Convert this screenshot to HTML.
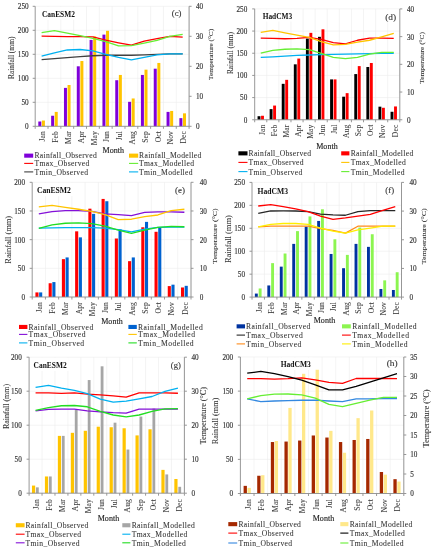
<!DOCTYPE html>
<html><head><meta charset="utf-8"><style>
html,body{margin:0;padding:0;background:#fff;width:433px;height:550px;overflow:hidden}
svg{display:block;will-change:transform}
text{font-family:"Liberation Serif",serif;fill:#3A3A3A}
.t{font-size:7.2px;fill:#383838;stroke:#383838;stroke-width:0.16px}
.m{font-size:7.2px;fill:#3a3a3a;stroke:#3a3a3a;stroke-width:0.05px}
.at{font-size:7.3px;fill:#333;stroke:#333;stroke-width:0.06px}
.at2{font-size:6.9px;fill:#333;stroke:#333;stroke-width:0.08px}
.mo{font-size:7.3px;fill:#222;stroke:#222;stroke-width:0.12px}
.ti{font-size:8.0px;font-weight:bold;fill:#111}
.tg{font-size:7.5px;fill:#333;stroke:#333;stroke-width:0.1px}
.lg{font-size:7.4px;fill:#333;stroke:#333;stroke-width:0.06px}
</style></head><body>
<svg width="433" height="550" viewBox="0 0 433 550">
<rect width="433" height="550" fill="#fff"/>
<path d="M48.02 6.3V126.3M60.85 6.3V126.3M73.67 6.3V126.3M86.5 6.3V126.3M99.32 6.3V126.3M112.15 6.3V126.3M124.97 6.3V126.3M137.8 6.3V126.3M150.62 6.3V126.3M163.45 6.3V126.3M176.27 6.3V126.3M189.1 6.3V126.3M35.2 102.3H189.1M35.2 78.3H189.1M35.2 54.3H189.1M35.2 30.3H189.1M35.2 6.3H189.1" stroke="#ECECEC" stroke-width="0.6" fill="none"/>
<rect x="40" y="6.9" width="36.9" height="12.8" fill="#fff"/>
<rect x="170.25" y="6.9" width="12.7" height="11.2" fill="#fff"/>
<rect x="38.31" y="121.5" width="3" height="4.8" fill="#7F00D9"/>
<rect x="41.91" y="120.54" width="3" height="5.76" fill="#FFC400"/>
<rect x="51.14" y="115.74" width="3" height="10.56" fill="#7F00D9"/>
<rect x="54.74" y="111.9" width="3" height="14.4" fill="#FFC400"/>
<rect x="63.96" y="87.9" width="3" height="38.4" fill="#7F00D9"/>
<rect x="67.56" y="85.02" width="3" height="41.28" fill="#FFC400"/>
<rect x="76.79" y="66.3" width="3" height="60" fill="#7F00D9"/>
<rect x="80.39" y="61.02" width="3" height="65.28" fill="#FFC400"/>
<rect x="89.61" y="39.9" width="3" height="86.4" fill="#7F00D9"/>
<rect x="93.21" y="36.54" width="3" height="89.76" fill="#FFC400"/>
<rect x="102.44" y="34.62" width="3" height="91.68" fill="#7F00D9"/>
<rect x="106.04" y="30.78" width="3" height="95.52" fill="#FFC400"/>
<rect x="115.26" y="80.22" width="3" height="46.08" fill="#7F00D9"/>
<rect x="118.86" y="74.94" width="3" height="51.36" fill="#FFC400"/>
<rect x="128.09" y="101.82" width="3" height="24.48" fill="#7F00D9"/>
<rect x="131.69" y="98.46" width="3" height="27.84" fill="#FFC400"/>
<rect x="140.91" y="74.94" width="3" height="51.36" fill="#7F00D9"/>
<rect x="144.51" y="69.66" width="3" height="56.64" fill="#FFC400"/>
<rect x="153.74" y="68.7" width="3" height="57.6" fill="#7F00D9"/>
<rect x="157.34" y="62.94" width="3" height="63.36" fill="#FFC400"/>
<rect x="166.56" y="111.9" width="3" height="14.4" fill="#7F00D9"/>
<rect x="170.16" y="110.94" width="3" height="15.36" fill="#FFC400"/>
<rect x="179.39" y="118.14" width="3" height="8.16" fill="#7F00D9"/>
<rect x="182.99" y="113.34" width="3" height="12.96" fill="#FFC400"/>
<polyline points="41.61,59.58 54.44,58.62 67.26,57.66 80.09,56.7 92.91,55.74 105.74,55.26 118.56,55.26 131.39,55.26 144.21,54.78 157.04,54.3 169.86,53.82 182.69,53.82" stroke="#404040" stroke-width="1.3" fill="none" stroke-linejoin="round"/>
<polyline points="41.61,56.22 54.44,52.86 67.26,49.98 80.09,49.5 92.91,50.94 105.74,54.3 118.56,57.42 131.39,59.92 144.21,57.42 157.04,54.78 169.86,53.82 182.69,53.82" stroke="#00B0F0" stroke-width="1.3" fill="none" stroke-linejoin="round"/>
<polyline points="41.61,36.2 54.44,36.3 67.26,36.54 80.09,36.54 92.91,36.78 105.74,40.09 118.56,42.78 131.39,45.18 144.21,41.2 157.04,38.7 169.86,36.3 182.69,37.12" stroke="#FF0000" stroke-width="1.3" fill="none" stroke-linejoin="round"/>
<polyline points="41.61,32.7 54.44,30.54 67.26,33.18 80.09,35.58 92.91,38.46 105.74,41.58 118.56,45.9 131.39,45.66 144.21,43.12 157.04,40.38 169.86,36.3 182.69,34.38" stroke="#66EE33" stroke-width="1.3" fill="none" stroke-linejoin="round"/>
<path d="M35.2 6.3V126.3M189.1 6.3V126.3M35.2 126.3H189.1M32.7 126.3H35.2M32.7 102.3H35.2M32.7 78.3H35.2M32.7 54.3H35.2M32.7 30.3H35.2M32.7 6.3H35.2M189.1 126.3H191.6M189.1 96.3H191.6M189.1 66.3H191.6M189.1 36.3H191.6M189.1 6.3H191.6M35.2 126.3V128.8M48.02 126.3V128.8M60.85 126.3V128.8M73.67 126.3V128.8M86.5 126.3V128.8M99.32 126.3V128.8M112.15 126.3V128.8M124.97 126.3V128.8M137.8 126.3V128.8M150.62 126.3V128.8M163.45 126.3V128.8M176.27 126.3V128.8M189.1 126.3V128.8" stroke="#8C8C8C" stroke-width="0.9" fill="none"/>
<text x="28.6" y="129.2" text-anchor="end" class="t">0</text>
<text x="28.6" y="105.2" text-anchor="end" class="t">50</text>
<text x="28.6" y="81.2" text-anchor="end" class="t">100</text>
<text x="28.6" y="57.2" text-anchor="end" class="t">150</text>
<text x="28.6" y="33.2" text-anchor="end" class="t">200</text>
<text x="28.6" y="9.2" text-anchor="end" class="t">250</text>
<text x="196" y="129.2" class="t">0</text>
<text x="196" y="99.2" class="t">10</text>
<text x="196" y="69.2" class="t">20</text>
<text x="196" y="39.2" class="t">30</text>
<text x="196" y="9.2" class="t">40</text>
<text transform="translate(45.21 131) rotate(-90) scale(1.05 1)" text-anchor="end" class="m" letter-spacing="0.12">Jan</text>
<text transform="translate(58.04 131) rotate(-90) scale(1.05 1)" text-anchor="end" class="m" letter-spacing="0.12">Feb</text>
<text transform="translate(70.86 131) rotate(-90) scale(1.05 1)" text-anchor="end" class="m" letter-spacing="0.12">Mar</text>
<text transform="translate(83.69 131) rotate(-90) scale(1.05 1)" text-anchor="end" class="m" letter-spacing="0.12">Apr</text>
<text transform="translate(96.51 131) rotate(-90) scale(1.05 1)" text-anchor="end" class="m" letter-spacing="0.12">May</text>
<text transform="translate(109.34 131) rotate(-90) scale(1.05 1)" text-anchor="end" class="m" letter-spacing="0.12">Jun</text>
<text transform="translate(122.16 131) rotate(-90) scale(1.05 1)" text-anchor="end" class="m" letter-spacing="0.12">Jul</text>
<text transform="translate(134.99 131) rotate(-90) scale(1.05 1)" text-anchor="end" class="m" letter-spacing="0.12">Aug</text>
<text transform="translate(147.81 131) rotate(-90) scale(1.05 1)" text-anchor="end" class="m" letter-spacing="0.12">Sep</text>
<text transform="translate(160.64 131) rotate(-90) scale(1.05 1)" text-anchor="end" class="m" letter-spacing="0.12">Oct</text>
<text transform="translate(173.46 131) rotate(-90) scale(1.05 1)" text-anchor="end" class="m" letter-spacing="0.12">Nov</text>
<text transform="translate(186.29 131) rotate(-90) scale(1.05 1)" text-anchor="end" class="m" letter-spacing="0.12">Dec</text>
<text transform="translate(13.8 57.8) rotate(-90)" text-anchor="middle" class="at" textLength="42.6" lengthAdjust="spacingAndGlyphs">Rainfall (mm)</text>
<text transform="translate(212.5 54.4) rotate(-90)" text-anchor="middle" class="at2" style="font-size:6.9px" textLength="51" lengthAdjust="spacingAndGlyphs">Temperature (&#176;C)</text>
<text transform="translate(113.3 152.7) scale(1.1 1)" text-anchor="middle" class="mo" textLength="19.7" lengthAdjust="spacing">Month</text>
<text x="42" y="16.7" class="ti" textLength="32.9" lengthAdjust="spacingAndGlyphs">CanESM2</text>
<text x="171.75" y="15.6" class="tg" textLength="9.7" lengthAdjust="spacingAndGlyphs">(c)</text>
<rect x="24.2" y="153.6" width="9" height="4.1" fill="#7F00D9"/>
<text transform="translate(34.5 158.2) scale(1.03 1)" class="lg" textLength="60.39" lengthAdjust="spacing">Rainfall_Observed</text>
<path d="M24.2 163.4H33.2" stroke="#FF0000" stroke-width="1.1"/>
<text transform="translate(34.5 166.3) scale(1.03 1)" class="lg" textLength="53.28" lengthAdjust="spacing">Tmax_Observed</text>
<path d="M24.2 171.9H33.2" stroke="#404040" stroke-width="1.1"/>
<text transform="translate(34.5 174.8) scale(1.03 1)" class="lg" textLength="51.96" lengthAdjust="spacing">Tmin_Observed</text>
<rect x="129" y="153.6" width="9.2" height="4.1" fill="#FFC400"/>
<text transform="translate(139.1 158.2) scale(1.03 1)" class="lg" textLength="60.39" lengthAdjust="spacing">Rainfall_Modelled</text>
<path d="M129 163.4H138.2" stroke="#66EE33" stroke-width="1.1"/>
<text transform="translate(139.1 166.3) scale(1.03 1)" class="lg" textLength="53.29" lengthAdjust="spacing">Tmax_Modelled</text>
<path d="M129 171.9H138.2" stroke="#00B0F0" stroke-width="1.1"/>
<text transform="translate(139.1 174.8) scale(1.03 1)" class="lg" textLength="51.96" lengthAdjust="spacing">Tmin_Modelled</text>
<path d="M266.79 8.9V119.75M278.88 8.9V119.75M290.98 8.9V119.75M303.07 8.9V119.75M315.16 8.9V119.75M327.25 8.9V119.75M339.34 8.9V119.75M351.43 8.9V119.75M363.52 8.9V119.75M375.62 8.9V119.75M387.71 8.9V119.75M399.8 8.9V119.75M254.7 97.58H399.8M254.7 75.41H399.8M254.7 53.24H399.8M254.7 31.07H399.8M254.7 8.9H399.8" stroke="#ECECEC" stroke-width="0.6" fill="none"/>
<rect x="260.7" y="9.5" width="33.5" height="12" fill="#fff"/>
<rect x="383.75" y="9.5" width="13.9" height="12.9" fill="#fff"/>
<rect x="257.55" y="116.2" width="2.9" height="3.55" fill="#000000"/>
<rect x="261.05" y="115.76" width="2.9" height="3.99" fill="#FF0000"/>
<rect x="269.64" y="109.11" width="2.9" height="10.64" fill="#000000"/>
<rect x="273.14" y="105.56" width="2.9" height="14.19" fill="#FF0000"/>
<rect x="281.73" y="83.83" width="2.9" height="35.92" fill="#000000"/>
<rect x="285.23" y="79.84" width="2.9" height="39.91" fill="#FF0000"/>
<rect x="293.82" y="64.33" width="2.9" height="55.42" fill="#000000"/>
<rect x="297.32" y="58.56" width="2.9" height="61.19" fill="#FF0000"/>
<rect x="305.91" y="38.61" width="2.9" height="81.14" fill="#000000"/>
<rect x="309.41" y="32.84" width="2.9" height="86.91" fill="#FF0000"/>
<rect x="318" y="36.83" width="2.9" height="82.92" fill="#000000"/>
<rect x="321.5" y="29.3" width="2.9" height="90.45" fill="#FF0000"/>
<rect x="330.1" y="79.4" width="2.9" height="40.35" fill="#000000"/>
<rect x="333.6" y="79.4" width="2.9" height="40.35" fill="#FF0000"/>
<rect x="342.19" y="96.69" width="2.9" height="23.06" fill="#000000"/>
<rect x="345.69" y="93.15" width="2.9" height="26.6" fill="#FF0000"/>
<rect x="354.28" y="74.08" width="2.9" height="45.67" fill="#000000"/>
<rect x="357.78" y="66.1" width="2.9" height="53.65" fill="#FF0000"/>
<rect x="366.37" y="66.99" width="2.9" height="52.76" fill="#000000"/>
<rect x="369.87" y="62.99" width="2.9" height="56.76" fill="#FF0000"/>
<rect x="378.46" y="106.67" width="2.9" height="13.08" fill="#000000"/>
<rect x="381.96" y="107.78" width="2.9" height="11.97" fill="#FF0000"/>
<rect x="390.55" y="111.77" width="2.9" height="7.98" fill="#000000"/>
<rect x="394.05" y="106.45" width="2.9" height="13.3" fill="#FF0000"/>
<polyline points="260.75,57.36 272.84,56.79 284.93,56.12 297.02,55.46 309.11,55.01 321.2,54.57 333.3,54.35 345.39,54.13 357.48,53.91 369.57,53.68 381.66,53.24 393.75,53.24" stroke="#00B0F0" stroke-width="1.3" fill="none" stroke-linejoin="round"/>
<polyline points="260.75,53.24 272.84,50.4 284.93,49.25 297.02,48.81 309.11,49.69 321.2,53.46 333.3,57.36 345.39,58.56 357.48,57.36 369.57,54.13 381.66,52.35 393.75,52.35" stroke="#66EE33" stroke-width="1.3" fill="none" stroke-linejoin="round"/>
<polyline points="260.75,38.16 272.84,38.39 284.93,38.74 297.02,38.43 309.11,37.41 321.2,39.32 333.3,42.6 345.39,43.93 357.48,40.25 369.57,38.03 381.66,38.03 393.75,38.3" stroke="#FF0000" stroke-width="1.3" fill="none" stroke-linejoin="round"/>
<polyline points="260.75,32.4 272.84,30.36 284.93,32.84 297.02,35.06 309.11,37.41 321.2,41.71 333.3,44.82 345.39,44.37 357.48,42.16 369.57,40.25 381.66,36.83 393.75,33.29" stroke="#FFC400" stroke-width="1.3" fill="none" stroke-linejoin="round"/>
<path d="M254.7 8.9V119.75M399.8 8.9V119.75M254.7 119.75H399.8M252.2 119.75H254.7M252.2 97.58H254.7M252.2 75.41H254.7M252.2 53.24H254.7M252.2 31.07H254.7M252.2 8.9H254.7M399.8 119.75H402.3M399.8 92.04H402.3M399.8 64.33H402.3M399.8 36.61H402.3M399.8 8.9H402.3M254.7 119.75V122.25M266.79 119.75V122.25M278.88 119.75V122.25M290.98 119.75V122.25M303.07 119.75V122.25M315.16 119.75V122.25M327.25 119.75V122.25M339.34 119.75V122.25M351.43 119.75V122.25M363.52 119.75V122.25M375.62 119.75V122.25M387.71 119.75V122.25M399.8 119.75V122.25" stroke="#8C8C8C" stroke-width="0.9" fill="none"/>
<text x="247.3" y="122.65" text-anchor="end" class="t">0</text>
<text x="247.3" y="100.48" text-anchor="end" class="t">50</text>
<text x="247.3" y="78.31" text-anchor="end" class="t">100</text>
<text x="247.3" y="56.14" text-anchor="end" class="t">150</text>
<text x="247.3" y="33.97" text-anchor="end" class="t">200</text>
<text x="247.3" y="11.8" text-anchor="end" class="t">250</text>
<text x="407" y="122.65" class="t">0</text>
<text x="407" y="94.94" class="t">10</text>
<text x="407" y="67.23" class="t">20</text>
<text x="407" y="39.51" class="t">30</text>
<text x="407" y="11.8" class="t">40</text>
<text transform="translate(264.55 124.6) rotate(-90) scale(1.05 1)" text-anchor="end" class="m" letter-spacing="0.12">Jan</text>
<text transform="translate(276.64 124.6) rotate(-90) scale(1.05 1)" text-anchor="end" class="m" letter-spacing="0.12">Feb</text>
<text transform="translate(288.73 124.6) rotate(-90) scale(1.05 1)" text-anchor="end" class="m" letter-spacing="0.12">Mar</text>
<text transform="translate(300.82 124.6) rotate(-90) scale(1.05 1)" text-anchor="end" class="m" letter-spacing="0.12">Apr</text>
<text transform="translate(312.91 124.6) rotate(-90) scale(1.05 1)" text-anchor="end" class="m" letter-spacing="0.12">May</text>
<text transform="translate(325 124.6) rotate(-90) scale(1.05 1)" text-anchor="end" class="m" letter-spacing="0.12">Jun</text>
<text transform="translate(337.1 124.6) rotate(-90) scale(1.05 1)" text-anchor="end" class="m" letter-spacing="0.12">Jul</text>
<text transform="translate(349.19 124.6) rotate(-90) scale(1.05 1)" text-anchor="end" class="m" letter-spacing="0.12">Aug</text>
<text transform="translate(361.28 124.6) rotate(-90) scale(1.05 1)" text-anchor="end" class="m" letter-spacing="0.12">Sep</text>
<text transform="translate(373.37 124.6) rotate(-90) scale(1.05 1)" text-anchor="end" class="m" letter-spacing="0.12">Oct</text>
<text transform="translate(385.46 124.6) rotate(-90) scale(1.05 1)" text-anchor="end" class="m" letter-spacing="0.12">Nov</text>
<text transform="translate(397.55 124.6) rotate(-90) scale(1.05 1)" text-anchor="end" class="m" letter-spacing="0.12">Dec</text>
<text transform="translate(232.5 53.1) rotate(-90)" text-anchor="middle" class="at" textLength="42" lengthAdjust="spacingAndGlyphs">Rainfall (mm)</text>
<text transform="translate(424.4 57.9) rotate(-90)" text-anchor="middle" class="at2" style="font-size:6.9px" textLength="51.6" lengthAdjust="spacingAndGlyphs">Temperature (&#176;C)</text>
<text transform="translate(327 148.8) scale(1.1 1)" text-anchor="middle" class="mo" textLength="19.7" lengthAdjust="spacing">Month</text>
<text x="262.7" y="18.5" class="ti" textLength="29.5" lengthAdjust="spacingAndGlyphs">HadCM3</text>
<text x="385.25" y="19.9" class="tg" textLength="10.9" lengthAdjust="spacingAndGlyphs">(d)</text>
<rect x="238.4" y="151.3" width="9.1" height="4.1" fill="#000000"/>
<text transform="translate(248.5 155.9) scale(1.03 1)" class="lg" textLength="60.68" lengthAdjust="spacing">Rainfall_Observed</text>
<path d="M238.4 162.4H247.5" stroke="#FF0000" stroke-width="1.1"/>
<text transform="translate(248.5 165.3) scale(1.03 1)" class="lg" textLength="53.54" lengthAdjust="spacing">Tmax_Observed</text>
<path d="M238.4 171.6H247.5" stroke="#00B0F0" stroke-width="1.1"/>
<text transform="translate(248.5 174.5) scale(1.03 1)" class="lg" textLength="52.21" lengthAdjust="spacing">Tmin_Observed</text>
<rect x="341.2" y="151.3" width="8.2" height="4.1" fill="#FF0000"/>
<text transform="translate(350.7 155.9) scale(1.03 1)" class="lg" textLength="60.68" lengthAdjust="spacing">Rainfall_Modelled</text>
<path d="M341.2 162.4H349.4" stroke="#FFC400" stroke-width="1.1"/>
<text transform="translate(350.7 165.3) scale(1.03 1)" class="lg" textLength="53.54" lengthAdjust="spacing">Tmax_Modelled</text>
<path d="M341.2 171.6H349.4" stroke="#66EE33" stroke-width="1.1"/>
<text transform="translate(350.7 174.5) scale(1.03 1)" class="lg" textLength="52.21" lengthAdjust="spacing">Tmin_Modelled</text>
<path d="M45.43 182.3V297M58.67 182.3V297M71.9 182.3V297M85.13 182.3V297M98.37 182.3V297M111.6 182.3V297M124.83 182.3V297M138.07 182.3V297M151.3 182.3V297M164.53 182.3V297M177.77 182.3V297M191 182.3V297M32.2 268.32H191M32.2 239.65H191M32.2 210.98H191M32.2 182.3H191" stroke="#ECECEC" stroke-width="0.6" fill="none"/>
<rect x="34.9" y="182.9" width="38" height="13.3" fill="#fff"/>
<rect x="173.5" y="182.9" width="13" height="12.6" fill="#fff"/>
<rect x="35.42" y="292.41" width="3.1" height="4.59" fill="#FF0000"/>
<rect x="39.12" y="292.41" width="3.1" height="4.59" fill="#0062D0"/>
<rect x="48.65" y="283.24" width="3.1" height="13.76" fill="#FF0000"/>
<rect x="52.35" y="282.09" width="3.1" height="14.91" fill="#0062D0"/>
<rect x="61.88" y="259.15" width="3.1" height="37.85" fill="#FF0000"/>
<rect x="65.58" y="257.43" width="3.1" height="39.57" fill="#0062D0"/>
<rect x="75.12" y="231.33" width="3.1" height="65.67" fill="#FF0000"/>
<rect x="78.82" y="237.36" width="3.1" height="59.64" fill="#0062D0"/>
<rect x="88.35" y="208.68" width="3.1" height="88.32" fill="#FF0000"/>
<rect x="92.05" y="213.84" width="3.1" height="83.16" fill="#0062D0"/>
<rect x="101.58" y="198.93" width="3.1" height="98.07" fill="#FF0000"/>
<rect x="105.28" y="201.23" width="3.1" height="95.77" fill="#0062D0"/>
<rect x="114.82" y="238.5" width="3.1" height="58.5" fill="#FF0000"/>
<rect x="118.52" y="229.33" width="3.1" height="67.67" fill="#0062D0"/>
<rect x="128.05" y="261.16" width="3.1" height="35.84" fill="#FF0000"/>
<rect x="131.75" y="257.43" width="3.1" height="39.57" fill="#0062D0"/>
<rect x="141.28" y="227.26" width="3.1" height="69.74" fill="#FF0000"/>
<rect x="144.98" y="221.87" width="3.1" height="75.13" fill="#0062D0"/>
<rect x="154.52" y="231.79" width="3.1" height="65.21" fill="#FF0000"/>
<rect x="158.22" y="227.26" width="3.1" height="69.74" fill="#0062D0"/>
<rect x="167.75" y="286.1" width="3.1" height="10.9" fill="#FF0000"/>
<rect x="171.45" y="284.67" width="3.1" height="12.33" fill="#0062D0"/>
<rect x="180.98" y="287.48" width="3.1" height="9.52" fill="#FF0000"/>
<rect x="184.68" y="285.82" width="3.1" height="11.18" fill="#0062D0"/>
<polyline points="38.82,228.18 52.05,227.89 65.28,227.72 78.52,227.61 91.75,227.61 104.98,228.18 118.22,229.61 131.45,231.97 144.68,229.21 157.92,227.43 171.15,227.03 184.38,227.03" stroke="#00B0F0" stroke-width="1.3" fill="none" stroke-linejoin="round"/>
<polyline points="38.82,228.29 52.05,224.85 65.28,223.25 78.52,222.9 91.75,223.71 104.98,226.17 118.22,230.07 131.45,233.34 144.68,230.07 157.92,227.43 171.15,226.46 184.38,226.75" stroke="#22DD22" stroke-width="1.3" fill="none" stroke-linejoin="round"/>
<polyline points="38.82,213.84 52.05,211.55 65.28,210.63 78.52,210.63 91.75,211.32 104.98,213.84 118.22,214.59 131.45,215.56 144.68,212.41 157.92,211.89 171.15,211.89 184.38,212.24" stroke="#8410D8" stroke-width="1.3" fill="none" stroke-linejoin="round"/>
<polyline points="38.82,206.96 52.05,205.47 65.28,207.3 78.52,209.25 91.75,211.32 104.98,214.59 118.22,219.69 131.45,219.23 144.68,216.71 157.92,214.99 171.15,210.63 184.38,209.25" stroke="#FFC400" stroke-width="1.3" fill="none" stroke-linejoin="round"/>
<path d="M32.2 182.3V297M191 182.3V297M32.2 297H191M29.7 297H32.2M29.7 268.32H32.2M29.7 239.65H32.2M29.7 210.98H32.2M29.7 182.3H32.2M191 297H193.5M191 268.32H193.5M191 239.65H193.5M191 210.98H193.5M191 182.3H193.5M32.2 297V299.5M45.43 297V299.5M58.67 297V299.5M71.9 297V299.5M85.13 297V299.5M98.37 297V299.5M111.6 297V299.5M124.83 297V299.5M138.07 297V299.5M151.3 297V299.5M164.53 297V299.5M177.77 297V299.5M191 297V299.5" stroke="#8C8C8C" stroke-width="0.9" fill="none"/>
<text x="25" y="299.9" text-anchor="end" class="t">0</text>
<text x="25" y="271.22" text-anchor="end" class="t">50</text>
<text x="25" y="242.55" text-anchor="end" class="t">100</text>
<text x="25" y="213.88" text-anchor="end" class="t">150</text>
<text x="25" y="185.2" text-anchor="end" class="t">200</text>
<text x="199.7" y="299.9" class="t">0</text>
<text x="199.7" y="271.22" class="t">10</text>
<text x="199.7" y="242.55" class="t">20</text>
<text x="199.7" y="213.88" class="t">30</text>
<text x="199.7" y="185.2" class="t">40</text>
<text transform="translate(42.02 302.1) rotate(-90) scale(1.05 1)" text-anchor="end" class="m" letter-spacing="0.12">Jan</text>
<text transform="translate(55.25 302.1) rotate(-90) scale(1.05 1)" text-anchor="end" class="m" letter-spacing="0.12">Feb</text>
<text transform="translate(68.48 302.1) rotate(-90) scale(1.05 1)" text-anchor="end" class="m" letter-spacing="0.12">Mar</text>
<text transform="translate(81.72 302.1) rotate(-90) scale(1.05 1)" text-anchor="end" class="m" letter-spacing="0.12">Apr</text>
<text transform="translate(94.95 302.1) rotate(-90) scale(1.05 1)" text-anchor="end" class="m" letter-spacing="0.12">May</text>
<text transform="translate(108.18 302.1) rotate(-90) scale(1.05 1)" text-anchor="end" class="m" letter-spacing="0.12">Jun</text>
<text transform="translate(121.42 302.1) rotate(-90) scale(1.05 1)" text-anchor="end" class="m" letter-spacing="0.12">Jul</text>
<text transform="translate(134.65 302.1) rotate(-90) scale(1.05 1)" text-anchor="end" class="m" letter-spacing="0.12">Aug</text>
<text transform="translate(147.88 302.1) rotate(-90) scale(1.05 1)" text-anchor="end" class="m" letter-spacing="0.12">Sep</text>
<text transform="translate(161.12 302.1) rotate(-90) scale(1.05 1)" text-anchor="end" class="m" letter-spacing="0.12">Oct</text>
<text transform="translate(174.35 302.1) rotate(-90) scale(1.05 1)" text-anchor="end" class="m" letter-spacing="0.12">Nov</text>
<text transform="translate(187.58 302.1) rotate(-90) scale(1.05 1)" text-anchor="end" class="m" letter-spacing="0.12">Dec</text>
<text transform="translate(10.6 239.8) rotate(-90)" text-anchor="middle" class="at" textLength="47.8" lengthAdjust="spacingAndGlyphs">Rainfall (mm)</text>
<text transform="translate(216.5 236) rotate(-90)" text-anchor="middle" class="at2" style="font-size:7.1px" textLength="55.4" lengthAdjust="spacingAndGlyphs">Temperature (&#176;C)</text>
<text transform="translate(112 323.8) scale(1.1 1)" text-anchor="middle" class="mo" textLength="19.7" lengthAdjust="spacing">Month</text>
<text x="36.9" y="193.2" class="ti" textLength="34" lengthAdjust="spacingAndGlyphs">CanESM2</text>
<text x="175" y="193" class="tg" textLength="10" lengthAdjust="spacingAndGlyphs">(e)</text>
<rect x="19" y="324.9" width="8.4" height="4.1" fill="#FF0000"/>
<text transform="translate(28.5 329.5) scale(1.03 1)" class="lg" textLength="62.82" lengthAdjust="spacing">Rainfall_Observed</text>
<path d="M19 334.4H27.4" stroke="#8410D8" stroke-width="1.1"/>
<text transform="translate(28.5 337.3) scale(1.03 1)" class="lg" textLength="55.42" lengthAdjust="spacing">Tmax_Observed</text>
<path d="M19 342.9H27.4" stroke="#00B0F0" stroke-width="1.1"/>
<text transform="translate(28.5 345.8) scale(1.03 1)" class="lg" textLength="54.04" lengthAdjust="spacing">Tmin_Observed</text>
<rect x="128.4" y="324.9" width="8.4" height="4.1" fill="#0062D0"/>
<text transform="translate(138 329.5) scale(1.03 1)" class="lg" textLength="62.82" lengthAdjust="spacing">Rainfall_Modelled</text>
<path d="M128.4 334.4H136.8" stroke="#FFC400" stroke-width="1.1"/>
<text transform="translate(138 337.3) scale(1.03 1)" class="lg" textLength="55.43" lengthAdjust="spacing">Tmax_Modelled</text>
<path d="M128.4 342.9H136.8" stroke="#22DD22" stroke-width="1.1"/>
<text transform="translate(138 345.8) scale(1.03 1)" class="lg" textLength="54.05" lengthAdjust="spacing">Tmin_Modelled</text>
<path d="M264.46 182.4V297.1M276.92 182.4V297.1M289.38 182.4V297.1M301.83 182.4V297.1M314.29 182.4V297.1M326.75 182.4V297.1M339.21 182.4V297.1M351.67 182.4V297.1M364.12 182.4V297.1M376.58 182.4V297.1M389.04 182.4V297.1M401.5 182.4V297.1M252 274.16H401.5M252 251.22H401.5M252 228.28H401.5M252 205.34H401.5M252 182.4H401.5" stroke="#ECECEC" stroke-width="0.6" fill="none"/>
<rect x="255.6" y="183" width="34.5" height="13.9" fill="#fff"/>
<rect x="383.85" y="183" width="11.7" height="12.5" fill="#fff"/>
<rect x="254.88" y="293.57" width="2.9" height="3.53" fill="#0033A0"/>
<rect x="258.68" y="288.47" width="2.9" height="8.63" fill="#8CF550"/>
<rect x="267.34" y="285.45" width="2.9" height="11.65" fill="#0033A0"/>
<rect x="271.14" y="263.15" width="2.9" height="33.95" fill="#8CF550"/>
<rect x="279.8" y="266.64" width="2.9" height="30.46" fill="#0033A0"/>
<rect x="283.6" y="253.51" width="2.9" height="43.59" fill="#8CF550"/>
<rect x="292.25" y="243.88" width="2.9" height="53.22" fill="#0033A0"/>
<rect x="296.05" y="231.12" width="2.9" height="65.98" fill="#8CF550"/>
<rect x="304.71" y="226.54" width="2.9" height="70.56" fill="#0033A0"/>
<rect x="308.51" y="216.4" width="2.9" height="80.7" fill="#8CF550"/>
<rect x="317.17" y="220.94" width="2.9" height="76.16" fill="#0033A0"/>
<rect x="320.97" y="209.29" width="2.9" height="87.81" fill="#8CF550"/>
<rect x="329.63" y="253.97" width="2.9" height="43.13" fill="#0033A0"/>
<rect x="333.43" y="239.29" width="2.9" height="57.81" fill="#8CF550"/>
<rect x="342.09" y="268.2" width="2.9" height="28.9" fill="#0033A0"/>
<rect x="345.89" y="254.89" width="2.9" height="42.21" fill="#8CF550"/>
<rect x="354.55" y="243.88" width="2.9" height="53.22" fill="#0033A0"/>
<rect x="358.35" y="227.59" width="2.9" height="69.51" fill="#8CF550"/>
<rect x="367" y="246.86" width="2.9" height="50.24" fill="#0033A0"/>
<rect x="370.8" y="234.24" width="2.9" height="62.86" fill="#8CF550"/>
<rect x="379.46" y="288.98" width="2.9" height="8.12" fill="#0033A0"/>
<rect x="383.26" y="280.35" width="2.9" height="16.75" fill="#8CF550"/>
<rect x="391.92" y="289.99" width="2.9" height="7.11" fill="#0033A0"/>
<rect x="395.72" y="272.23" width="2.9" height="24.87" fill="#8CF550"/>
<polyline points="258.23,226.9 270.69,226.22 283.15,226.22 295.6,226.22 308.06,226.22 320.52,228.56 332.98,230.48 345.44,233.1 357.9,226.22 370.35,226.22 382.81,226.22 395.27,226.22" stroke="#FF8C1A" stroke-width="1.3" fill="none" stroke-linejoin="round"/>
<polyline points="258.23,226.81 270.69,224.43 283.15,223.51 295.6,223.51 308.06,224.43 320.52,228.14 332.98,231.17 345.44,233.1 357.9,229.89 370.35,228.1 382.81,226.22 395.27,226.22" stroke="#FFEE00" stroke-width="1.3" fill="none" stroke-linejoin="round"/>
<polyline points="258.23,213.37 270.69,210.98 283.15,210.85 295.6,210.98 308.06,211.58 320.52,214.06 332.98,214.88 345.44,215.25 357.9,211.58 370.35,210.57 382.81,210.57 395.27,210.57" stroke="#262626" stroke-width="1.3" fill="none" stroke-linejoin="round"/>
<polyline points="258.23,205.98 270.69,204.7 283.15,206.58 295.6,208.78 308.06,211.58 320.52,216.12 332.98,219.43 345.44,217.96 357.9,216.17 370.35,214.29 382.81,210.3 395.27,206.58" stroke="#FF0000" stroke-width="1.3" fill="none" stroke-linejoin="round"/>
<path d="M252 182.4V297.1M401.5 182.4V297.1M252 297.1H401.5M249.5 297.1H252M249.5 274.16H252M249.5 251.22H252M249.5 228.28H252M249.5 205.34H252M249.5 182.4H252M401.5 297.1H404M401.5 268.43H404M401.5 239.75H404M401.5 211.08H404M401.5 182.4H404M252 297.1V299.6M264.46 297.1V299.6M276.92 297.1V299.6M289.38 297.1V299.6M301.83 297.1V299.6M314.29 297.1V299.6M326.75 297.1V299.6M339.21 297.1V299.6M351.67 297.1V299.6M364.12 297.1V299.6M376.58 297.1V299.6M389.04 297.1V299.6M401.5 297.1V299.6" stroke="#8C8C8C" stroke-width="0.9" fill="none"/>
<text x="245" y="300" text-anchor="end" class="t">0</text>
<text x="245" y="277.06" text-anchor="end" class="t">50</text>
<text x="245" y="254.12" text-anchor="end" class="t">100</text>
<text x="245" y="231.18" text-anchor="end" class="t">150</text>
<text x="245" y="208.24" text-anchor="end" class="t">200</text>
<text x="245" y="185.3" text-anchor="end" class="t">250</text>
<text x="409.5" y="300" class="t">0</text>
<text x="409.5" y="271.32" class="t">10</text>
<text x="409.5" y="242.65" class="t">20</text>
<text x="409.5" y="213.98" class="t">30</text>
<text x="409.5" y="185.3" class="t">40</text>
<text transform="translate(261.73 302) rotate(-90) scale(1.05 1)" text-anchor="end" class="m" letter-spacing="0.12">Jan</text>
<text transform="translate(274.19 302) rotate(-90) scale(1.05 1)" text-anchor="end" class="m" letter-spacing="0.12">Feb</text>
<text transform="translate(286.65 302) rotate(-90) scale(1.05 1)" text-anchor="end" class="m" letter-spacing="0.12">Mar</text>
<text transform="translate(299.1 302) rotate(-90) scale(1.05 1)" text-anchor="end" class="m" letter-spacing="0.12">Apr</text>
<text transform="translate(311.56 302) rotate(-90) scale(1.05 1)" text-anchor="end" class="m" letter-spacing="0.12">May</text>
<text transform="translate(324.02 302) rotate(-90) scale(1.05 1)" text-anchor="end" class="m" letter-spacing="0.12">Jun</text>
<text transform="translate(336.48 302) rotate(-90) scale(1.05 1)" text-anchor="end" class="m" letter-spacing="0.12">Jul</text>
<text transform="translate(348.94 302) rotate(-90) scale(1.05 1)" text-anchor="end" class="m" letter-spacing="0.12">Aug</text>
<text transform="translate(361.4 302) rotate(-90) scale(1.05 1)" text-anchor="end" class="m" letter-spacing="0.12">Sep</text>
<text transform="translate(373.85 302) rotate(-90) scale(1.05 1)" text-anchor="end" class="m" letter-spacing="0.12">Oct</text>
<text transform="translate(386.31 302) rotate(-90) scale(1.05 1)" text-anchor="end" class="m" letter-spacing="0.12">Nov</text>
<text transform="translate(398.77 302) rotate(-90) scale(1.05 1)" text-anchor="end" class="m" letter-spacing="0.12">Dec</text>
<text transform="translate(230.5 239.2) rotate(-90)" text-anchor="middle" class="at" textLength="47.8" lengthAdjust="spacingAndGlyphs">Rainfall (mm)</text>
<text transform="translate(426.3 236.3) rotate(-90)" text-anchor="middle" class="at2" style="font-size:7.1px" textLength="56" lengthAdjust="spacingAndGlyphs">Temperature (&#176;C)</text>
<text transform="translate(324.5 322.7) scale(1.1 1)" text-anchor="middle" class="mo" textLength="19.7" lengthAdjust="spacing">Month</text>
<text x="257.6" y="193.9" class="ti" textLength="30.5" lengthAdjust="spacingAndGlyphs">HadCM3</text>
<text x="385.35" y="193" class="tg" textLength="8.7" lengthAdjust="spacingAndGlyphs">(f)</text>
<rect x="236.6" y="324.3" width="8.4" height="4.1" fill="#0033A0"/>
<text transform="translate(246 328.9) scale(1.03 1)" class="lg" textLength="62.43" lengthAdjust="spacing">Rainfall_Observed</text>
<path d="M236.6 335.1H245" stroke="#262626" stroke-width="1.1"/>
<text transform="translate(246 338) scale(1.03 1)" class="lg" textLength="55.08" lengthAdjust="spacing">Tmax_Observed</text>
<path d="M236.6 343.9H245" stroke="#FF8C1A" stroke-width="1.1"/>
<text transform="translate(246 346.8) scale(1.03 1)" class="lg" textLength="53.71" lengthAdjust="spacing">Tmin_Observed</text>
<rect x="342" y="324.3" width="8.8" height="4.1" fill="#8CF550"/>
<text transform="translate(352.2 328.9) scale(1.03 1)" class="lg" textLength="62.43" lengthAdjust="spacing">Rainfall_Modelled</text>
<path d="M342 335.1H350.8" stroke="#FF0000" stroke-width="1.1"/>
<text transform="translate(352.2 338) scale(1.03 1)" class="lg" textLength="55.09" lengthAdjust="spacing">Tmax_Modelled</text>
<path d="M342 343.9H350.8" stroke="#FFEE00" stroke-width="1.1"/>
<text transform="translate(352.2 346.8) scale(1.03 1)" class="lg" textLength="53.71" lengthAdjust="spacing">Tmin_Modelled</text>
<path d="M42.04 357.2V493.2M54.98 357.2V493.2M67.93 357.2V493.2M80.87 357.2V493.2M93.81 357.2V493.2M106.75 357.2V493.2M119.69 357.2V493.2M132.63 357.2V493.2M145.58 357.2V493.2M158.52 357.2V493.2M171.46 357.2V493.2M184.4 357.2V493.2M29.1 459.2H184.4M29.1 425.2H184.4M29.1 391.2H184.4M29.1 357.2H184.4" stroke="#ECECEC" stroke-width="0.6" fill="none"/>
<rect x="31.6" y="357.8" width="37" height="13.2" fill="#fff"/>
<rect x="169.3" y="357.8" width="13" height="12.6" fill="#fff"/>
<rect x="31.97" y="485.58" width="3.2" height="7.62" fill="#FFC400"/>
<rect x="35.97" y="487.35" width="2.8" height="5.85" fill="#A6A6A6"/>
<rect x="44.91" y="476.47" width="3.2" height="16.73" fill="#FFC400"/>
<rect x="48.91" y="476.47" width="2.8" height="16.73" fill="#A6A6A6"/>
<rect x="57.85" y="435.88" width="3.2" height="57.32" fill="#FFC400"/>
<rect x="61.85" y="435.88" width="2.8" height="57.32" fill="#A6A6A6"/>
<rect x="70.8" y="432.82" width="3.2" height="60.38" fill="#FFC400"/>
<rect x="74.8" y="409.56" width="2.8" height="83.64" fill="#A6A6A6"/>
<rect x="83.74" y="430.78" width="3.2" height="62.42" fill="#FFC400"/>
<rect x="87.74" y="380.05" width="2.8" height="113.15" fill="#A6A6A6"/>
<rect x="96.68" y="426.7" width="3.2" height="66.5" fill="#FFC400"/>
<rect x="100.68" y="366.31" width="2.8" height="126.89" fill="#A6A6A6"/>
<rect x="109.62" y="427.24" width="3.2" height="65.96" fill="#FFC400"/>
<rect x="113.62" y="422.68" width="2.8" height="70.52" fill="#A6A6A6"/>
<rect x="122.56" y="428.26" width="3.2" height="64.94" fill="#FFC400"/>
<rect x="126.56" y="449.54" width="2.8" height="43.66" fill="#A6A6A6"/>
<rect x="135.5" y="435.4" width="3.2" height="57.8" fill="#FFC400"/>
<rect x="139.5" y="416.56" width="2.8" height="76.64" fill="#A6A6A6"/>
<rect x="148.45" y="429.28" width="3.2" height="63.92" fill="#FFC400"/>
<rect x="152.45" y="408.47" width="2.8" height="84.73" fill="#A6A6A6"/>
<rect x="161.39" y="469.88" width="3.2" height="23.32" fill="#FFC400"/>
<rect x="165.39" y="474.43" width="2.8" height="18.77" fill="#A6A6A6"/>
<rect x="174.33" y="478.99" width="3.2" height="14.21" fill="#FFC400"/>
<rect x="178.33" y="486.81" width="2.8" height="6.39" fill="#A6A6A6"/>
<polyline points="35.57,410.78 48.51,409.42 61.45,409.15 74.4,409.15 87.34,410.78 100.28,411.87 113.22,412.69 126.16,413.16 139.1,409.15 152.05,409.15 164.99,409.15 177.93,409.15" stroke="#8410D8" stroke-width="1.3" fill="none" stroke-linejoin="round"/>
<polyline points="35.57,410.44 48.51,407.66 61.45,405.75 74.4,405.48 87.34,406.77 100.28,411.33 113.22,415 126.16,416.9 139.1,415 152.05,411.33 164.99,408.88 177.93,408.68" stroke="#22DD22" stroke-width="1.3" fill="none" stroke-linejoin="round"/>
<polyline points="35.57,392.83 48.51,392.83 61.45,393.38 74.4,392.83 87.34,394.12 100.28,394.87 113.22,395.96 126.16,397.12 139.1,392.83 152.05,392.83 164.99,392.83 177.93,393.24" stroke="#FF0000" stroke-width="1.3" fill="none" stroke-linejoin="round"/>
<polyline points="35.57,387.32 48.51,385.42 61.45,388.21 74.4,390.38 87.34,393.72 100.28,399.16 113.22,402.08 126.16,401.13 139.1,398.95 152.05,396.5 164.99,391.47 177.93,388.21" stroke="#00B0F0" stroke-width="1.3" fill="none" stroke-linejoin="round"/>
<path d="M29.1 357.2V493.2M184.4 357.2V493.2M29.1 493.2H184.4M26.6 493.2H29.1M26.6 459.2H29.1M26.6 425.2H29.1M26.6 391.2H29.1M26.6 357.2H29.1M184.4 493.2H186.9M184.4 459.2H186.9M184.4 425.2H186.9M184.4 391.2H186.9M184.4 357.2H186.9M29.1 493.2V495.7M42.04 493.2V495.7M54.98 493.2V495.7M67.93 493.2V495.7M80.87 493.2V495.7M93.81 493.2V495.7M106.75 493.2V495.7M119.69 493.2V495.7M132.63 493.2V495.7M145.58 493.2V495.7M158.52 493.2V495.7M171.46 493.2V495.7M184.4 493.2V495.7" stroke="#8C8C8C" stroke-width="0.9" fill="none"/>
<text x="21.8" y="496.1" text-anchor="end" class="t">0</text>
<text x="21.8" y="462.1" text-anchor="end" class="t">50</text>
<text x="21.8" y="428.1" text-anchor="end" class="t">100</text>
<text x="21.8" y="394.1" text-anchor="end" class="t">150</text>
<text x="21.8" y="360.1" text-anchor="end" class="t">200</text>
<text x="191.5" y="496.1" class="t">0</text>
<text x="191.5" y="462.1" class="t">10</text>
<text x="191.5" y="428.1" class="t">20</text>
<text x="191.5" y="394.1" class="t">30</text>
<text x="191.5" y="360.1" class="t">40</text>
<text transform="translate(39.17 499) rotate(-90) scale(1.05 1)" text-anchor="end" class="m" letter-spacing="0.12">Jan</text>
<text transform="translate(52.11 499) rotate(-90) scale(1.05 1)" text-anchor="end" class="m" letter-spacing="0.12">Feb</text>
<text transform="translate(65.05 499) rotate(-90) scale(1.05 1)" text-anchor="end" class="m" letter-spacing="0.12">Mar</text>
<text transform="translate(78 499) rotate(-90) scale(1.05 1)" text-anchor="end" class="m" letter-spacing="0.12">Apr</text>
<text transform="translate(90.94 499) rotate(-90) scale(1.05 1)" text-anchor="end" class="m" letter-spacing="0.12">May</text>
<text transform="translate(103.88 499) rotate(-90) scale(1.05 1)" text-anchor="end" class="m" letter-spacing="0.12">Jun</text>
<text transform="translate(116.82 499) rotate(-90) scale(1.05 1)" text-anchor="end" class="m" letter-spacing="0.12">Jul</text>
<text transform="translate(129.76 499) rotate(-90) scale(1.05 1)" text-anchor="end" class="m" letter-spacing="0.12">Aug</text>
<text transform="translate(142.7 499) rotate(-90) scale(1.05 1)" text-anchor="end" class="m" letter-spacing="0.12">Sep</text>
<text transform="translate(155.65 499) rotate(-90) scale(1.05 1)" text-anchor="end" class="m" letter-spacing="0.12">Oct</text>
<text transform="translate(168.59 499) rotate(-90) scale(1.05 1)" text-anchor="end" class="m" letter-spacing="0.12">Nov</text>
<text transform="translate(181.53 499) rotate(-90) scale(1.05 1)" text-anchor="end" class="m" letter-spacing="0.12">Dec</text>
<text transform="translate(8.7 406.5) rotate(-90)" text-anchor="middle" class="at" textLength="45.2" lengthAdjust="spacingAndGlyphs">Rainfall (mm)</text>
<text transform="translate(205.8 415.7) rotate(-90)" text-anchor="middle" class="at2" style="font-size:7.5px" textLength="57.3" lengthAdjust="spacingAndGlyphs">Temperature (&#176;C)</text>
<text transform="translate(108.5 520.5) scale(1.1 1)" text-anchor="middle" class="mo" textLength="19.7" lengthAdjust="spacing">Month</text>
<text x="33.6" y="368" class="ti" textLength="33" lengthAdjust="spacingAndGlyphs">CanESM2</text>
<text x="170.8" y="367.9" class="tg" textLength="10" lengthAdjust="spacingAndGlyphs">(g)</text>
<rect x="15.8" y="523.2" width="8.8" height="4.1" fill="#FFC400"/>
<text transform="translate(25.4 527.8) scale(1.03 1)" class="lg" textLength="61.17" lengthAdjust="spacing">Rainfall_Observed</text>
<path d="M15.8 534.2H24.6" stroke="#FF0000" stroke-width="1.1"/>
<text transform="translate(25.4 537.1) scale(1.03 1)" class="lg" textLength="53.97" lengthAdjust="spacing">Tmax_Observed</text>
<path d="M15.8 542.8H24.6" stroke="#8410D8" stroke-width="1.1"/>
<text transform="translate(25.4 545.7) scale(1.03 1)" class="lg" textLength="52.62" lengthAdjust="spacing">Tmin_Observed</text>
<rect x="122.3" y="523.2" width="8.1" height="4.1" fill="#A6A6A6"/>
<text transform="translate(131.7 527.8) scale(1.03 1)" class="lg" textLength="61.17" lengthAdjust="spacing">Rainfall_Modelled</text>
<path d="M122.3 534.2H130.4" stroke="#00B0F0" stroke-width="1.1"/>
<text transform="translate(131.7 537.1) scale(1.03 1)" class="lg" textLength="53.97" lengthAdjust="spacing">Tmax_Modelled</text>
<path d="M122.3 542.8H130.4" stroke="#22DD22" stroke-width="1.1"/>
<text transform="translate(131.7 545.7) scale(1.03 1)" class="lg" textLength="52.63" lengthAdjust="spacing">Tmin_Modelled</text>
<path d="M254.02 357V493.5M267.63 357V493.5M281.25 357V493.5M294.87 357V493.5M308.48 357V493.5M322.1 357V493.5M335.72 357V493.5M349.33 357V493.5M362.95 357V493.5M376.57 357V493.5M390.18 357V493.5M403.8 357V493.5M240.4 459.38H403.8M240.4 425.25H403.8M240.4 391.12H403.8M240.4 357H403.8" stroke="#ECECEC" stroke-width="0.6" fill="none"/>
<rect x="278.7" y="357.6" width="34.1" height="12.4" fill="#fff"/>
<rect x="385.25" y="357.6" width="13.9" height="11.3" fill="#fff"/>
<rect x="243.61" y="485.86" width="3.3" height="7.64" fill="#A52800"/>
<rect x="247.51" y="487.9" width="3.3" height="5.6" fill="#FFE88A"/>
<rect x="257.22" y="475.75" width="3.3" height="17.75" fill="#A52800"/>
<rect x="261.12" y="475.21" width="3.3" height="18.29" fill="#FFE88A"/>
<rect x="270.84" y="442.04" width="3.3" height="51.46" fill="#A52800"/>
<rect x="274.74" y="441.02" width="3.3" height="52.48" fill="#FFE88A"/>
<rect x="284.46" y="441.56" width="3.3" height="51.94" fill="#A52800"/>
<rect x="288.36" y="407.91" width="3.3" height="85.59" fill="#FFE88A"/>
<rect x="298.07" y="440.54" width="3.3" height="52.96" fill="#A52800"/>
<rect x="301.98" y="373.79" width="3.3" height="119.71" fill="#FFE88A"/>
<rect x="311.69" y="435.49" width="3.3" height="58.01" fill="#A52800"/>
<rect x="315.59" y="369.76" width="3.3" height="123.74" fill="#FFE88A"/>
<rect x="325.31" y="437.54" width="3.3" height="55.96" fill="#A52800"/>
<rect x="329.21" y="430.85" width="3.3" height="62.65" fill="#FFE88A"/>
<rect x="338.92" y="442.04" width="3.3" height="51.46" fill="#A52800"/>
<rect x="342.82" y="452.75" width="3.3" height="40.75" fill="#FFE88A"/>
<rect x="352.54" y="439.99" width="3.3" height="53.51" fill="#A52800"/>
<rect x="356.44" y="418.15" width="3.3" height="75.35" fill="#FFE88A"/>
<rect x="366.16" y="438.97" width="3.3" height="54.53" fill="#A52800"/>
<rect x="370.06" y="410.51" width="3.3" height="82.99" fill="#FFE88A"/>
<rect x="379.77" y="472" width="3.3" height="21.5" fill="#A52800"/>
<rect x="383.68" y="474.66" width="3.3" height="18.84" fill="#FFE88A"/>
<rect x="393.39" y="479.17" width="3.3" height="14.33" fill="#A52800"/>
<rect x="397.29" y="481.56" width="3.3" height="11.94" fill="#FFE88A"/>
<polyline points="247.21,398.91 260.82,401.64 274.44,401.02 288.06,400.54 301.68,400.27 315.29,400.13 328.91,401.02 342.52,401.7 356.14,398.97 369.76,398.97 383.38,398.5 396.99,398.5" stroke="#3388E0" stroke-width="1.3" fill="none" stroke-linejoin="round"/>
<polyline points="247.21,398.91 260.82,395.63 274.44,394.13 288.06,393.99 301.68,394.95 315.29,398.09 328.91,404.43 342.52,406.55 356.14,403.41 369.76,400.2 383.38,397.47 396.99,397.47" stroke="#66EE33" stroke-width="1.3" fill="none" stroke-linejoin="round"/>
<polyline points="247.21,378.57 260.82,378.57 274.44,379.11 288.06,378.7 301.68,377.95 315.29,379.86 328.91,382.39 342.52,383.28 356.14,378.5 369.76,378.5 383.38,378.5 396.99,378.64" stroke="#FF0000" stroke-width="1.3" fill="none" stroke-linejoin="round"/>
<polyline points="247.21,373.11 260.82,371.47 274.44,373.52 288.06,376.66 301.68,380.2 315.29,384.98 328.91,389.9 342.52,389.9 356.14,386.35 369.76,382.05 383.38,377.95 396.99,373.72" stroke="#000000" stroke-width="1.3" fill="none" stroke-linejoin="round"/>
<path d="M240.4 357V493.5M403.8 357V493.5M240.4 493.5H403.8M237.9 493.5H240.4M237.9 459.38H240.4M237.9 425.25H240.4M237.9 391.12H240.4M237.9 357H240.4M403.8 493.5H406.3M403.8 474H406.3M403.8 454.5H406.3M403.8 435H406.3M403.8 415.5H406.3M403.8 396H406.3M403.8 376.5H406.3M403.8 357H406.3M240.4 493.5V496M254.02 493.5V496M267.63 493.5V496M281.25 493.5V496M294.87 493.5V496M308.48 493.5V496M322.1 493.5V496M335.72 493.5V496M349.33 493.5V496M362.95 493.5V496M376.57 493.5V496M390.18 493.5V496M403.8 493.5V496" stroke="#8C8C8C" stroke-width="0.9" fill="none"/>
<text x="233.2" y="496.4" text-anchor="end" class="t">0</text>
<text x="233.2" y="462.27" text-anchor="end" class="t">50</text>
<text x="233.2" y="428.15" text-anchor="end" class="t">100</text>
<text x="233.2" y="394.02" text-anchor="end" class="t">150</text>
<text x="233.2" y="359.9" text-anchor="end" class="t">200</text>
<text x="410.2" y="496.4" class="t">0</text>
<text x="410.2" y="476.9" class="t">5</text>
<text x="410.2" y="457.4" class="t">10</text>
<text x="410.2" y="437.9" class="t">15</text>
<text x="410.2" y="418.4" class="t">20</text>
<text x="410.2" y="398.9" class="t">25</text>
<text x="410.2" y="379.4" class="t">30</text>
<text x="410.2" y="359.9" class="t">35</text>
<text transform="translate(250.61 499) rotate(-90) scale(1.05 1)" text-anchor="end" class="m" letter-spacing="0.12">Jan</text>
<text transform="translate(264.22 499) rotate(-90) scale(1.05 1)" text-anchor="end" class="m" letter-spacing="0.12">Feb</text>
<text transform="translate(277.84 499) rotate(-90) scale(1.05 1)" text-anchor="end" class="m" letter-spacing="0.12">Mar</text>
<text transform="translate(291.46 499) rotate(-90) scale(1.05 1)" text-anchor="end" class="m" letter-spacing="0.12">Apr</text>
<text transform="translate(305.07 499) rotate(-90) scale(1.05 1)" text-anchor="end" class="m" letter-spacing="0.12">May</text>
<text transform="translate(318.69 499) rotate(-90) scale(1.05 1)" text-anchor="end" class="m" letter-spacing="0.12">Jun</text>
<text transform="translate(332.31 499) rotate(-90) scale(1.05 1)" text-anchor="end" class="m" letter-spacing="0.12">Jul</text>
<text transform="translate(345.92 499) rotate(-90) scale(1.05 1)" text-anchor="end" class="m" letter-spacing="0.12">Aug</text>
<text transform="translate(359.54 499) rotate(-90) scale(1.05 1)" text-anchor="end" class="m" letter-spacing="0.12">Sep</text>
<text transform="translate(373.16 499) rotate(-90) scale(1.05 1)" text-anchor="end" class="m" letter-spacing="0.12">Oct</text>
<text transform="translate(386.77 499) rotate(-90) scale(1.05 1)" text-anchor="end" class="m" letter-spacing="0.12">Nov</text>
<text transform="translate(400.39 499) rotate(-90) scale(1.05 1)" text-anchor="end" class="m" letter-spacing="0.12">Dec</text>
<text transform="translate(217.7 421) rotate(-90)" text-anchor="middle" class="at" textLength="46.5" lengthAdjust="spacingAndGlyphs">Rainfall (mm)</text>
<text transform="translate(428.6 418.5) rotate(-90)" text-anchor="middle" class="at2" style="font-size:7.3px" textLength="58" lengthAdjust="spacingAndGlyphs">Temperature (&#176;C)</text>
<text transform="translate(323.5 521) scale(1.1 1)" text-anchor="middle" class="mo" textLength="19.7" lengthAdjust="spacing">Month</text>
<text x="280.7" y="367" class="ti" textLength="30.1" lengthAdjust="spacingAndGlyphs">HadCM3</text>
<text x="386.75" y="366.4" class="tg" textLength="10.9" lengthAdjust="spacingAndGlyphs">(h)</text>
<rect x="228.3" y="522.1" width="8.9" height="4.1" fill="#A52800"/>
<text transform="translate(238.4 526.7) scale(1.03 1)" class="lg" textLength="60.68" lengthAdjust="spacing">Rainfall_Observed</text>
<path d="M228.3 533.1H237.2" stroke="#FF0000" stroke-width="1.1"/>
<text transform="translate(238.4 536) scale(1.03 1)" class="lg" textLength="53.54" lengthAdjust="spacing">Tmax_Observed</text>
<path d="M228.3 543H237.2" stroke="#3388E0" stroke-width="1.1"/>
<text transform="translate(238.4 545.9) scale(1.03 1)" class="lg" textLength="52.21" lengthAdjust="spacing">Tmin_Observed</text>
<rect x="340.3" y="522.1" width="8.1" height="4.1" fill="#FFE88A"/>
<text transform="translate(349.7 526.7) scale(1.03 1)" class="lg" textLength="60.68" lengthAdjust="spacing">Rainfall_Modelled</text>
<path d="M340.3 533.1H348.4" stroke="#000000" stroke-width="1.1"/>
<text transform="translate(349.7 536) scale(1.03 1)" class="lg" textLength="53.54" lengthAdjust="spacing">Tmax_Modelled</text>
<path d="M340.3 543H348.4" stroke="#66EE33" stroke-width="1.1"/>
<text transform="translate(349.7 545.9) scale(1.03 1)" class="lg" textLength="52.21" lengthAdjust="spacing">Tmin_Modelled</text>
</svg>
</body></html>
